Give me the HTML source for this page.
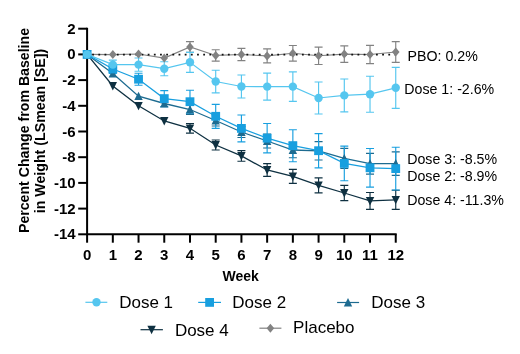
<!DOCTYPE html>
<html><head><meta charset="utf-8"><style>
html,body{margin:0;padding:0;background:#fff;}
svg{display:block;}
text{font-family:"Liberation Sans",Arial,sans-serif;fill:#000;}
.b text{font-weight:bold;font-size:15px;}
.t text{font-size:14.2px;}
.lg text{font-size:17px;}
</style></head><body>
<svg width="520" height="354" viewBox="0 0 520 354">
<rect width="520" height="354" fill="#fff"/>
<g>
<path d="M87.1 27.8V234.3H396.7" stroke="#000" stroke-width="2" fill="none"/>
<path d="M78.2 28.70H87" stroke="#000" stroke-width="2"/>
<path d="M78.2 54.40H87" stroke="#000" stroke-width="2"/>
<path d="M78.2 80.10H87" stroke="#000" stroke-width="2"/>
<path d="M78.2 105.80H87" stroke="#000" stroke-width="2"/>
<path d="M78.2 131.50H87" stroke="#000" stroke-width="2"/>
<path d="M78.2 157.20H87" stroke="#000" stroke-width="2"/>
<path d="M78.2 182.90H87" stroke="#000" stroke-width="2"/>
<path d="M78.2 208.60H87" stroke="#000" stroke-width="2"/>
<path d="M78.2 234.30H87" stroke="#000" stroke-width="2"/>
<path d="M87.10 234.3V242.7" stroke="#000" stroke-width="2"/>
<path d="M112.82 234.3V242.7" stroke="#000" stroke-width="2"/>
<path d="M138.54 234.3V242.7" stroke="#000" stroke-width="2"/>
<path d="M164.26 234.3V242.7" stroke="#000" stroke-width="2"/>
<path d="M189.98 234.3V242.7" stroke="#000" stroke-width="2"/>
<path d="M215.70 234.3V242.7" stroke="#000" stroke-width="2"/>
<path d="M241.42 234.3V242.7" stroke="#000" stroke-width="2"/>
<path d="M267.14 234.3V242.7" stroke="#000" stroke-width="2"/>
<path d="M292.86 234.3V242.7" stroke="#000" stroke-width="2"/>
<path d="M318.58 234.3V242.7" stroke="#000" stroke-width="2"/>
<path d="M344.30 234.3V242.7" stroke="#000" stroke-width="2"/>
<path d="M370.02 234.3V242.7" stroke="#000" stroke-width="2"/>
<path d="M395.74 234.3V242.7" stroke="#000" stroke-width="2"/>
</g>
<g class="s">
<path d="M189.98 41.60V52.20M185.98 41.60H193.98M185.98 52.20H193.98" stroke="#828282" stroke-width="1.15" fill="none"/>
<path d="M215.70 49.70V61.10M211.70 49.70H219.70M211.70 61.10H219.70" stroke="#828282" stroke-width="1.15" fill="none"/>
<path d="M241.42 48.40V60.60M237.42 48.40H245.42M237.42 60.60H245.42" stroke="#828282" stroke-width="1.15" fill="none"/>
<path d="M267.14 48.90V62.90M263.14 48.90H271.14M263.14 62.90H271.14" stroke="#828282" stroke-width="1.15" fill="none"/>
<path d="M292.86 45.45V61.15M288.86 45.45H296.86M288.86 61.15H296.86" stroke="#828282" stroke-width="1.15" fill="none"/>
<path d="M318.58 47.10V64.50M314.58 47.10H322.58M314.58 64.50H322.58" stroke="#828282" stroke-width="1.15" fill="none"/>
<path d="M344.30 45.80V62.40M340.30 45.80H348.30M340.30 62.40H348.30" stroke="#828282" stroke-width="1.15" fill="none"/>
<path d="M370.02 45.40V63.60M366.02 45.40H374.02M366.02 63.60H374.02" stroke="#828282" stroke-width="1.15" fill="none"/>
<path d="M395.74 41.60V62.40M391.74 41.60H399.74M391.74 62.40H399.74" stroke="#828282" stroke-width="1.15" fill="none"/>
<path d="M189.98 123.50V133.10M185.98 123.50H193.98M185.98 133.10H193.98" stroke="#0e3041" stroke-width="1.15" fill="none"/>
<path d="M215.70 140.00V150.00M211.70 140.00H219.70M211.70 150.00H219.70" stroke="#0e3041" stroke-width="1.15" fill="none"/>
<path d="M241.42 150.60V161.20M237.42 150.60H245.42M237.42 161.20H245.42" stroke="#0e3041" stroke-width="1.15" fill="none"/>
<path d="M267.14 163.60V176.40M263.14 163.60H271.14M263.14 176.40H271.14" stroke="#0e3041" stroke-width="1.15" fill="none"/>
<path d="M292.86 169.40V183.40M288.86 169.40H296.86M288.86 183.40H296.86" stroke="#0e3041" stroke-width="1.15" fill="none"/>
<path d="M318.58 177.80V192.80M314.58 177.80H322.58M314.58 192.80H322.58" stroke="#0e3041" stroke-width="1.15" fill="none"/>
<path d="M344.30 185.40V200.60M340.30 185.40H348.30M340.30 200.60H348.30" stroke="#0e3041" stroke-width="1.15" fill="none"/>
<path d="M370.02 192.50V209.30M366.02 192.50H374.02M366.02 209.30H374.02" stroke="#0e3041" stroke-width="1.15" fill="none"/>
<path d="M395.74 190.20V209.40M391.74 190.20H399.74M391.74 209.40H399.74" stroke="#0e3041" stroke-width="1.15" fill="none"/>
<path d="M189.98 104.50V114.50M185.98 104.50H193.98M185.98 114.50H193.98" stroke="#1d6b90" stroke-width="1.15" fill="none"/>
<path d="M215.70 115.00V126.00M211.70 115.00H219.70M211.70 126.00H219.70" stroke="#1d6b90" stroke-width="1.15" fill="none"/>
<path d="M241.42 126.50V137.50M237.42 126.50H245.42M237.42 137.50H245.42" stroke="#1d6b90" stroke-width="1.15" fill="none"/>
<path d="M267.14 134.00V148.00M263.14 134.00H271.14M263.14 148.00H271.14" stroke="#1d6b90" stroke-width="1.15" fill="none"/>
<path d="M292.86 142.30V157.70M288.86 142.30H296.86M288.86 157.70H296.86" stroke="#1d6b90" stroke-width="1.15" fill="none"/>
<path d="M318.58 141.60V160.00M314.58 141.60H322.58M314.58 160.00H322.58" stroke="#1d6b90" stroke-width="1.15" fill="none"/>
<path d="M344.30 148.40V168.40M340.30 148.40H348.30M340.30 168.40H348.30" stroke="#1d6b90" stroke-width="1.15" fill="none"/>
<path d="M370.02 153.30V174.10M366.02 153.30H374.02M366.02 174.10H374.02" stroke="#1d6b90" stroke-width="1.15" fill="none"/>
<path d="M395.74 151.90V175.30M391.74 151.90H399.74M391.74 175.30H399.74" stroke="#1d6b90" stroke-width="1.15" fill="none"/>
<path d="M112.82 64.50V73.50M108.82 64.50H116.82M108.82 73.50H116.82" stroke="#189fdf" stroke-width="1.15" fill="none"/>
<path d="M138.54 73.20V85.20M134.54 73.20H142.54M134.54 85.20H142.54" stroke="#189fdf" stroke-width="1.15" fill="none"/>
<path d="M164.26 90.60V106.60M160.26 90.60H168.26M160.26 106.60H168.26" stroke="#189fdf" stroke-width="1.15" fill="none"/>
<path d="M189.98 90.20V113.20M185.98 90.20H193.98M185.98 113.20H193.98" stroke="#189fdf" stroke-width="1.15" fill="none"/>
<path d="M215.70 104.30V128.30M211.70 104.30H219.70M211.70 128.30H219.70" stroke="#189fdf" stroke-width="1.15" fill="none"/>
<path d="M241.42 115.00V141.80M237.42 115.00H245.42M237.42 141.80H245.42" stroke="#189fdf" stroke-width="1.15" fill="none"/>
<path d="M267.14 123.50V152.90M263.14 123.50H271.14M263.14 152.90H271.14" stroke="#189fdf" stroke-width="1.15" fill="none"/>
<path d="M292.86 129.70V161.70M288.86 129.70H296.86M288.86 161.70H296.86" stroke="#189fdf" stroke-width="1.15" fill="none"/>
<path d="M318.58 133.60V167.80M314.58 133.60H322.58M314.58 167.80H322.58" stroke="#189fdf" stroke-width="1.15" fill="none"/>
<path d="M344.30 146.10V180.70M340.30 146.10H348.30M340.30 180.70H348.30" stroke="#189fdf" stroke-width="1.15" fill="none"/>
<path d="M370.02 148.50V187.10M366.02 148.50H374.02M366.02 187.10H374.02" stroke="#189fdf" stroke-width="1.15" fill="none"/>
<path d="M395.74 147.20V190.00M391.74 147.20H399.74M391.74 190.00H399.74" stroke="#189fdf" stroke-width="1.15" fill="none"/>
<path d="M112.82 60.10V69.10M108.82 60.10H116.82M108.82 69.10H116.82" stroke="#55c6ef" stroke-width="1.15" fill="none"/>
<path d="M138.54 58.00V71.20M134.54 58.00H142.54M134.54 71.20H142.54" stroke="#55c6ef" stroke-width="1.15" fill="none"/>
<path d="M164.26 61.70V75.70M160.26 61.70H168.26M160.26 75.70H168.26" stroke="#55c6ef" stroke-width="1.15" fill="none"/>
<path d="M189.98 52.30V72.30M185.98 52.30H193.98M185.98 72.30H193.98" stroke="#55c6ef" stroke-width="1.15" fill="none"/>
<path d="M215.70 70.20V92.80M211.70 70.20H219.70M211.70 92.80H219.70" stroke="#55c6ef" stroke-width="1.15" fill="none"/>
<path d="M241.42 75.00V98.00M237.42 75.00H245.42M237.42 98.00H245.42" stroke="#55c6ef" stroke-width="1.15" fill="none"/>
<path d="M267.14 73.10V100.10M263.14 73.10H271.14M263.14 100.10H271.14" stroke="#55c6ef" stroke-width="1.15" fill="none"/>
<path d="M292.86 71.80V101.40M288.86 71.80H296.86M288.86 101.40H296.86" stroke="#55c6ef" stroke-width="1.15" fill="none"/>
<path d="M318.58 82.00V114.00M314.58 82.00H322.58M314.58 114.00H322.58" stroke="#55c6ef" stroke-width="1.15" fill="none"/>
<path d="M344.30 79.00V111.80M340.30 79.00H348.30M340.30 111.80H348.30" stroke="#55c6ef" stroke-width="1.15" fill="none"/>
<path d="M370.02 76.20V112.20M366.02 76.20H374.02M366.02 112.20H374.02" stroke="#55c6ef" stroke-width="1.15" fill="none"/>
<path d="M395.74 67.30V108.30M391.74 67.30H399.74M391.74 108.30H399.74" stroke="#55c6ef" stroke-width="1.15" fill="none"/>
<polyline points="87.10,54.40 112.82,54.60 138.54,54.00 164.26,58.10 189.98,46.90 215.70,55.40 241.42,54.50 267.14,55.90 292.86,53.30 318.58,55.80 344.30,54.10 370.02,54.50 395.74,52.00" fill="none" stroke="#828282" stroke-width="1.1"/>
<line x1="86" y1="54.6" x2="396" y2="54.6" stroke="#111" stroke-width="1.8" stroke-dasharray="1.8 4.37"/>
<polyline points="87.10,54.40 112.82,86.00 138.54,105.80 164.26,121.00 189.98,128.30 215.70,145.00 241.42,155.90 267.14,170.00 292.86,176.40 318.58,185.30 344.30,193.00 370.02,200.90 395.74,199.80" fill="none" stroke="#0e3041" stroke-width="1.3"/>
<polyline points="87.10,54.40 112.82,73.50 138.54,96.20 164.26,103.50 189.98,109.50 215.70,120.50 241.42,132.00 267.14,141.00 292.86,150.00 318.58,150.80 344.30,158.40 370.02,163.70 395.74,163.60" fill="none" stroke="#1d6b90" stroke-width="1.3"/>
<polyline points="87.10,54.40 112.82,69.00 138.54,79.20 164.26,98.60 189.98,101.70 215.70,116.30 241.42,128.40 267.14,138.20 292.86,145.70 318.58,150.70 344.30,163.40 370.02,167.80 395.74,168.60" fill="none" stroke="#189fdf" stroke-width="1.25"/>
<polyline points="87.10,54.40 112.82,64.60 138.54,64.60 164.26,68.70 189.98,62.30 215.70,81.50 241.42,86.50 267.14,86.60 292.86,86.60 318.58,98.00 344.30,95.40 370.02,94.20 395.74,87.80" fill="none" stroke="#55c6ef" stroke-width="1.2"/>
<path d="M87.10 49.90L90.90 54.40L87.10 58.90L83.30 54.40Z" fill="#828282"/>
<path d="M112.82 50.10L116.62 54.60L112.82 59.10L109.02 54.60Z" fill="#828282"/>
<path d="M138.54 49.50L142.34 54.00L138.54 58.50L134.74 54.00Z" fill="#828282"/>
<path d="M164.26 53.60L168.06 58.10L164.26 62.60L160.46 58.10Z" fill="#828282"/>
<path d="M189.98 42.40L193.78 46.90L189.98 51.40L186.18 46.90Z" fill="#828282"/>
<path d="M215.70 50.90L219.50 55.40L215.70 59.90L211.90 55.40Z" fill="#828282"/>
<path d="M241.42 50.00L245.22 54.50L241.42 59.00L237.62 54.50Z" fill="#828282"/>
<path d="M267.14 51.40L270.94 55.90L267.14 60.40L263.34 55.90Z" fill="#828282"/>
<path d="M292.86 48.80L296.66 53.30L292.86 57.80L289.06 53.30Z" fill="#828282"/>
<path d="M318.58 51.30L322.38 55.80L318.58 60.30L314.78 55.80Z" fill="#828282"/>
<path d="M344.30 49.60L348.10 54.10L344.30 58.60L340.50 54.10Z" fill="#828282"/>
<path d="M370.02 50.00L373.82 54.50L370.02 59.00L366.22 54.50Z" fill="#828282"/>
<path d="M395.74 47.50L399.54 52.00L395.74 56.50L391.94 52.00Z" fill="#828282"/>
<path d="M87.10 58.90L91.30 50.50L82.90 50.50Z" fill="#0e3041"/>
<path d="M112.82 90.50L117.02 82.10L108.62 82.10Z" fill="#0e3041"/>
<path d="M138.54 110.30L142.74 101.90L134.34 101.90Z" fill="#0e3041"/>
<path d="M164.26 125.50L168.46 117.10L160.06 117.10Z" fill="#0e3041"/>
<path d="M189.98 132.80L194.18 124.40L185.78 124.40Z" fill="#0e3041"/>
<path d="M215.70 149.50L219.90 141.10L211.50 141.10Z" fill="#0e3041"/>
<path d="M241.42 160.40L245.62 152.00L237.22 152.00Z" fill="#0e3041"/>
<path d="M267.14 174.50L271.34 166.10L262.94 166.10Z" fill="#0e3041"/>
<path d="M292.86 180.90L297.06 172.50L288.66 172.50Z" fill="#0e3041"/>
<path d="M318.58 189.80L322.78 181.40L314.38 181.40Z" fill="#0e3041"/>
<path d="M344.30 197.50L348.50 189.10L340.10 189.10Z" fill="#0e3041"/>
<path d="M370.02 205.40L374.22 197.00L365.82 197.00Z" fill="#0e3041"/>
<path d="M395.74 204.30L399.94 195.90L391.54 195.90Z" fill="#0e3041"/>
<path d="M87.10 49.90L91.30 58.30L82.90 58.30Z" fill="#1d6b90"/>
<path d="M112.82 69.00L117.02 77.40L108.62 77.40Z" fill="#1d6b90"/>
<path d="M138.54 91.70L142.74 100.10L134.34 100.10Z" fill="#1d6b90"/>
<path d="M164.26 99.00L168.46 107.40L160.06 107.40Z" fill="#1d6b90"/>
<path d="M189.98 105.00L194.18 113.40L185.78 113.40Z" fill="#1d6b90"/>
<path d="M215.70 116.00L219.90 124.40L211.50 124.40Z" fill="#1d6b90"/>
<path d="M241.42 127.50L245.62 135.90L237.22 135.90Z" fill="#1d6b90"/>
<path d="M267.14 136.50L271.34 144.90L262.94 144.90Z" fill="#1d6b90"/>
<path d="M292.86 145.50L297.06 153.90L288.66 153.90Z" fill="#1d6b90"/>
<path d="M318.58 146.30L322.78 154.70L314.38 154.70Z" fill="#1d6b90"/>
<path d="M344.30 153.90L348.50 162.30L340.10 162.30Z" fill="#1d6b90"/>
<path d="M370.02 159.20L374.22 167.60L365.82 167.60Z" fill="#1d6b90"/>
<path d="M395.74 159.10L399.94 167.50L391.54 167.50Z" fill="#1d6b90"/>
<rect x="82.70" y="50.00" width="8.8" height="8.8" fill="#189fdf"/>
<rect x="108.42" y="64.60" width="8.8" height="8.8" fill="#189fdf"/>
<rect x="134.14" y="74.80" width="8.8" height="8.8" fill="#189fdf"/>
<rect x="159.86" y="94.20" width="8.8" height="8.8" fill="#189fdf"/>
<rect x="185.58" y="97.30" width="8.8" height="8.8" fill="#189fdf"/>
<rect x="211.30" y="111.90" width="8.8" height="8.8" fill="#189fdf"/>
<rect x="237.02" y="124.00" width="8.8" height="8.8" fill="#189fdf"/>
<rect x="262.74" y="133.80" width="8.8" height="8.8" fill="#189fdf"/>
<rect x="288.46" y="141.30" width="8.8" height="8.8" fill="#189fdf"/>
<rect x="314.18" y="146.30" width="8.8" height="8.8" fill="#189fdf"/>
<rect x="339.90" y="159.00" width="8.8" height="8.8" fill="#189fdf"/>
<rect x="365.62" y="163.40" width="8.8" height="8.8" fill="#189fdf"/>
<rect x="391.34" y="164.20" width="8.8" height="8.8" fill="#189fdf"/>
<circle cx="87.10" cy="54.40" r="4.2" fill="#55c6ef"/>
<circle cx="112.82" cy="64.60" r="4.2" fill="#55c6ef"/>
<circle cx="138.54" cy="64.60" r="4.2" fill="#55c6ef"/>
<circle cx="164.26" cy="68.70" r="4.2" fill="#55c6ef"/>
<circle cx="189.98" cy="62.30" r="4.2" fill="#55c6ef"/>
<circle cx="215.70" cy="81.50" r="4.2" fill="#55c6ef"/>
<circle cx="241.42" cy="86.50" r="4.2" fill="#55c6ef"/>
<circle cx="267.14" cy="86.60" r="4.2" fill="#55c6ef"/>
<circle cx="292.86" cy="86.60" r="4.2" fill="#55c6ef"/>
<circle cx="318.58" cy="98.00" r="4.2" fill="#55c6ef"/>
<circle cx="344.30" cy="95.40" r="4.2" fill="#55c6ef"/>
<circle cx="370.02" cy="94.20" r="4.2" fill="#55c6ef"/>
<circle cx="395.74" cy="87.80" r="4.2" fill="#55c6ef"/>
</g>
<g class="b">
<text x="75.6" y="33.70" text-anchor="end">2</text>
<text x="75.6" y="59.40" text-anchor="end">0</text>
<text x="75.6" y="85.10" text-anchor="end">-2</text>
<text x="75.6" y="110.80" text-anchor="end">-4</text>
<text x="75.6" y="136.50" text-anchor="end">-6</text>
<text x="75.6" y="162.20" text-anchor="end">-8</text>
<text x="75.6" y="187.90" text-anchor="end">-10</text>
<text x="75.6" y="213.60" text-anchor="end">-12</text>
<text x="75.6" y="239.30" text-anchor="end">-14</text>
<text x="87.10" y="259.8" text-anchor="middle">0</text>
<text x="112.82" y="259.8" text-anchor="middle">1</text>
<text x="138.54" y="259.8" text-anchor="middle">2</text>
<text x="164.26" y="259.8" text-anchor="middle">3</text>
<text x="189.98" y="259.8" text-anchor="middle">4</text>
<text x="215.70" y="259.8" text-anchor="middle">5</text>
<text x="241.42" y="259.8" text-anchor="middle">6</text>
<text x="267.14" y="259.8" text-anchor="middle">7</text>
<text x="292.86" y="259.8" text-anchor="middle">8</text>
<text x="318.58" y="259.8" text-anchor="middle">9</text>
<text x="344.30" y="259.8" text-anchor="middle">10</text>
<text x="370.02" y="259.8" text-anchor="middle">11</text>
<text x="395.74" y="259.8" text-anchor="middle">12</text>
<text x="240.6" y="281.2" text-anchor="middle" style="font-size:14px">Week</text>
<text transform="translate(28.7,130.5) rotate(-90)" text-anchor="middle" style="font-size:14.15px">Percent Change from Baseline</text>
<text transform="translate(45.0,131.0) rotate(-90)" text-anchor="middle" style="font-size:14.2px">in Weight (LSmean [SE])</text>
</g>
<g class="t">
<text x="407.6" y="60.8">PBO: 0.2%</text>
<text x="404.3" y="93.7">Dose 1: -2.6%</text>
<text x="407.2" y="164.2">Dose 3: -8.5%</text>
<text x="407.2" y="181.2">Dose 2: -8.9%</text>
<text x="407.2" y="204.6">Dose 4: -11.3%</text>
</g>
<g class="lg">
<line x1="85.4" y1="302.3" x2="107.3" y2="302.3" stroke="#55c6ef" stroke-width="1.2"/><circle cx="96.50" cy="302.30" r="4.2" fill="#55c6ef"/><text x="119.2" y="308.2">Dose 1</text>
<line x1="198.2" y1="302.4" x2="221" y2="302.4" stroke="#189fdf" stroke-width="1.2"/><rect x="205.20" y="298.00" width="8.8" height="8.8" fill="#189fdf"/><text x="232.3" y="308.2">Dose 2</text>
<line x1="337.1" y1="302.5" x2="359.1" y2="302.5" stroke="#1d6b90" stroke-width="1.2"/><path d="M348.00 298.00L352.20 306.40L343.80 306.40Z" fill="#1d6b90"/><text x="371.3" y="308.2">Dose 3</text>
<line x1="140.5" y1="329.7" x2="162.9" y2="329.7" stroke="#0e3041" stroke-width="1.2"/><path d="M151.60 334.20L155.80 325.80L147.40 325.80Z" fill="#0e3041"/><text x="174.9" y="335.6">Dose 4</text>
<line x1="259.4" y1="328.2" x2="281.4" y2="328.2" stroke="#828282" stroke-width="1.2"/><path d="M270.40 323.70L274.20 328.20L270.40 332.70L266.60 328.20Z" fill="#828282"/><text x="293.1" y="333.4">Placebo</text>
</g>
</svg>
</body></html>
